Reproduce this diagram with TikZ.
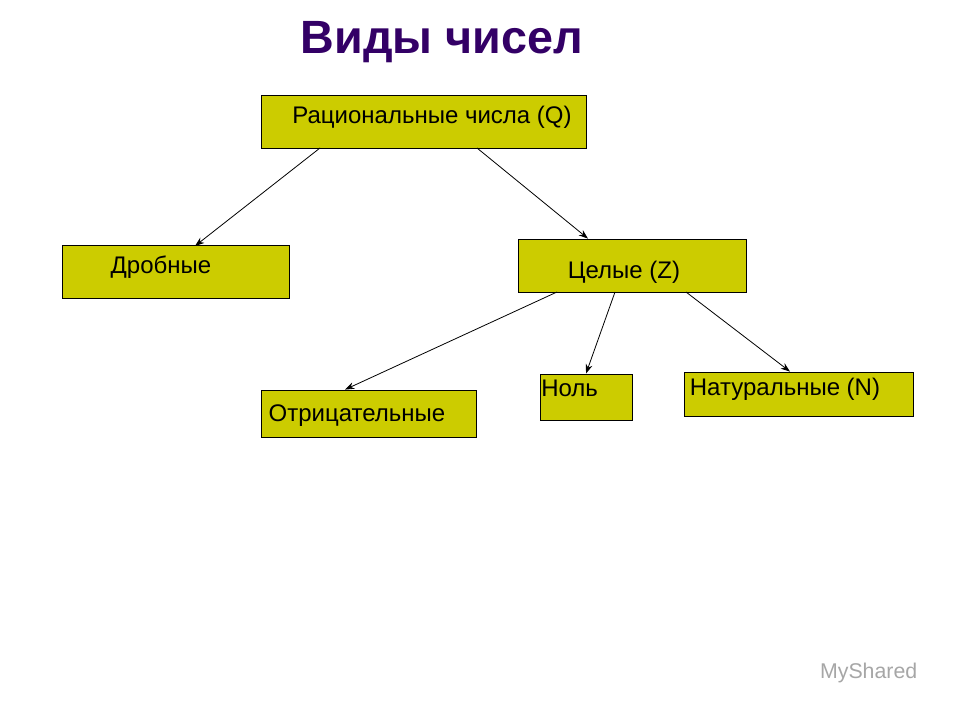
\documentclass[tikz,border=0pt]{standalone}
\usepackage{fontspec}
\setmainfont{Liberation Sans}
\usetikzlibrary{arrows.meta}
\definecolor{boxfill}{HTML}{CCCC00}
\definecolor{titlec}{HTML}{330066}
\begin{document}
\begin{tikzpicture}[x=0.75pt,y=-0.75pt,
  box/.style={draw=black,fill=boxfill,line width=0.6pt,inner sep=0pt},
  lbl/.style={font=\fontsize{18}{21}\selectfont,inner sep=0pt},
  arr/.style={-{Stealth[length=7pt,width=5pt]},line width=0.6pt}]
\useasboundingbox (0,0) rectangle (960,720);
\node[font=\fontsize{35}{40}\selectfont\bfseries,text=titlec] (title) at (442,42) {Виды чисел};
\node[box,minimum width=243.75pt,minimum height=39.75pt] (rat) at (423.5,121.5) {};
\node[lbl] (ratt) at (432,117) {Рациональные числа (Q)};
\node[box,minimum width=170.25pt,minimum height=39.75pt] (dr) at (175.5,271.5) {};
\node[lbl] (drt) at (161,267) {Дробные};
\node[box,minimum width=171pt,minimum height=39.75pt] (cel) at (632,265.5) {};
\node[lbl] (celt) at (624,272) {Целые (Z)};
\node[box,minimum width=161.25pt,minimum height=35.25pt] (otr) at (368.5,413.5) {};
\node[lbl] (otrt) at (357,416) {Отрицательные};
\node[box,minimum width=69pt,minimum height=34.5pt] (nol) at (586,397) {};
\node[lbl,anchor=west] (nolt) at (541,388) {Ноль};
\node[box,minimum width=171.75pt,minimum height=33pt] (nat) at (798.5,394) {};
\node[lbl] (natt) at (785,389) {Натуральные (N)};
\coordinate (a1) at (320,148); \coordinate (a2) at (477,148);
\coordinate (b1) at (557,292); \coordinate (b2) at (615,292); \coordinate (b3) at (686,292);
\draw[arr] (a1) -- (195,246) coordinate (e1);
\draw[arr] (a2) -- (cel.north west -| 588,0);
\draw[arr] (b1) -- (otr.north -| 345,0);
\draw[arr] (b2) -- (nol.north -| 586,0);
\draw[arr] (b3) -- (nat.north -| 790,0);
\node[font=\fontsize{16}{18}\selectfont,text=gray!70,anchor=east] (wm) at (922,673) {MyShared};
\end{tikzpicture}
\end{document}
